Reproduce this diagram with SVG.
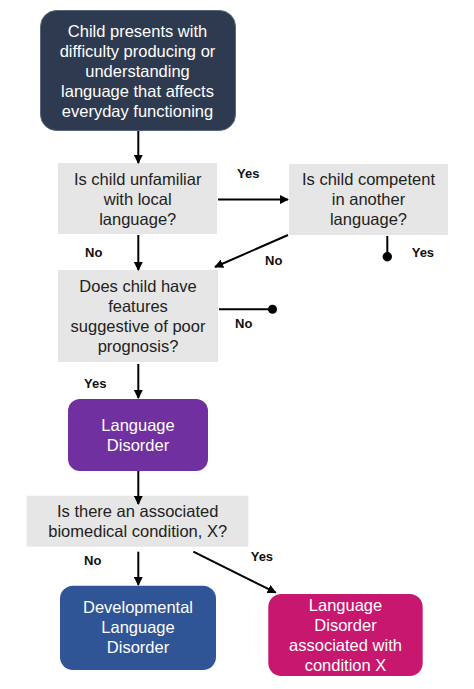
<svg xmlns="http://www.w3.org/2000/svg" width="474" height="689" viewBox="0 0 474 689">
<defs>
<marker id="arr" viewBox="0 0 10 10" refX="9" refY="5" markerWidth="9" markerHeight="9" markerUnits="userSpaceOnUse" orient="auto">
<path d="M0,0 L10,5 L0,10 z" fill="#000"/>
</marker>
<style>
.t{font-family:"Liberation Sans",Arial,sans-serif;font-size:16.5px;text-anchor:middle}
.dk{fill:#222}
.wt{fill:#ffffff}
.lb{font-family:"Liberation Sans",Arial,sans-serif;font-size:13px;font-weight:bold;fill:#111}
.q{fill:#e6e6e6}
.c{stroke:#000;stroke-width:2;fill:none}
</style>
</defs>
<rect width="474" height="689" fill="#fff"/>
<g id="start">
<rect x="40.5" y="10.5" width="195" height="120" rx="16" fill="#2e3a4f" stroke="#56677f" stroke-width="1"/>
<text class="t wt" x="137.5" y="37">Child presents with</text>
<text class="t wt" x="137.5" y="57">difficulty producing or</text>
<text class="t wt" x="137.5" y="77">understanding</text>
<text class="t wt" x="137.5" y="97">language that affects</text>
<text class="t wt" x="137.5" y="117">everyday functioning</text>
</g>
<g id="q1">
<rect class="q" x="58" y="163" width="159" height="71"/>
<text class="t dk" x="137.7" y="185">Is child unfamiliar</text>
<text class="t dk" x="137.7" y="205">with local</text>
<text class="t dk" x="137.7" y="225">language?</text>
</g>
<g id="q2">
<rect class="q" x="289" y="164" width="159" height="71"/>
<text class="t dk" x="368.5" y="185">Is child competent</text>
<text class="t dk" x="368.5" y="205">in another</text>
<text class="t dk" x="368.5" y="225">language?</text>
</g>
<g id="q3">
<rect class="q" x="58" y="270" width="160" height="92"/>
<text class="t dk" x="138" y="292">Does child have</text>
<text class="t dk" x="138" y="312">features</text>
<text class="t dk" x="138" y="332">suggestive of poor</text>
<text class="t dk" x="138" y="352">prognosis?</text>
</g>
<g id="ld">
<rect x="68" y="399" width="140" height="72" rx="12" fill="#7030a0"/>
<text class="t wt" x="138" y="430.7">Language</text>
<text class="t wt" x="138" y="450.7">Disorder</text>
</g>
<g id="q4">
<rect class="q" x="26.7" y="495.7" width="221.6" height="51"/>
<text class="t dk" x="137.7" y="517.3">Is there an associated</text>
<text class="t dk" x="137.7" y="537.3">biomedical condition, X?</text>
</g>
<g id="dld">
<rect x="60" y="585.7" width="156" height="84.3" rx="13" fill="#2f5597"/>
<text class="t wt" x="138" y="613.3">Developmental</text>
<text class="t wt" x="138" y="633.3">Language</text>
<text class="t wt" x="138" y="653.3">Disorder</text>
</g>
<g id="ldx">
<rect x="268.3" y="594" width="154.4" height="82" rx="13" fill="#c8176e"/>
<text class="t wt" x="345.5" y="610.7">Language</text>
<text class="t wt" x="345.5" y="630.7">Disorder</text>
<text class="t wt" x="345.5" y="650.7">associated with</text>
<text class="t wt" x="345.5" y="670.7">condition X</text>
</g>
<g id="connectors">
<line class="c" x1="138.3" y1="131" x2="138.3" y2="163" marker-end="url(#arr)"/>
<line class="c" x1="218" y1="199.5" x2="288" y2="199.5" marker-end="url(#arr)"/>
<line class="c" x1="138.3" y1="235" x2="138.3" y2="270" marker-end="url(#arr)"/>
<line class="c" x1="288" y1="235" x2="215" y2="267" marker-end="url(#arr)"/>
<line class="c" x1="387.3" y1="236" x2="387.3" y2="256"/>
<circle cx="387.3" cy="256.7" r="4.7" fill="#000"/>
<line class="c" x1="219" y1="309.3" x2="272" y2="309.3"/>
<circle cx="272.5" cy="309.3" r="4.5" fill="#000"/>
<line class="c" x1="138.3" y1="364" x2="138.3" y2="398" marker-end="url(#arr)"/>
<line class="c" x1="138.3" y1="471" x2="138.3" y2="504" marker-end="url(#arr)"/>
<line class="c" x1="138.3" y1="551.7" x2="138.3" y2="585" marker-end="url(#arr)"/>
<line class="c" x1="193.3" y1="551.7" x2="275.7" y2="592.7" marker-end="url(#arr)"/>
<text class="lb" x="237" y="178">Yes</text>
<text class="lb" x="85" y="257">No</text>
<text class="lb" x="265" y="265">No</text>
<text class="lb" x="411.7" y="257">Yes</text>
<text class="lb" x="235" y="328">No</text>
<text class="lb" x="84" y="388">Yes</text>
<text class="lb" x="84" y="565">No</text>
<text class="lb" x="250.7" y="561">Yes</text>
</g>
</svg>
